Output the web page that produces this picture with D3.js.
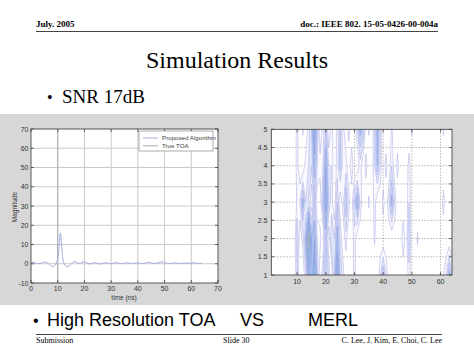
<!DOCTYPE html>
<html><head><meta charset="utf-8">
<script src="https://cdn.jsdelivr.net/npm/d3@7"></script>
<style>body{margin:0;background:#fff}svg{display:block}</style>
</head><body><svg id="c" width="474" height="355"></svg>
<script>
// ---------- data ----------
const timeNs = [0,1,2,3,4,5,6,7,8,9,10,10.5,11,11.5,12,13,14,15,16,17,18,19,20,21,22,23,24,25,26,27,28,29,30,31,32,33,34,35,36,37,38,39,40,41,42,43,44,45,46,47,48,49,50,51,52,53,54,55,56,57,58,59,60,61,62,63,64];
const magnitude = [0.3,0.8,0.2,0.1,0.4,1.0,0.6,-0.6,-1.6,-0.8,2.5,9,16,9,2,-1.2,-1.4,-0.3,1.1,0.8,0.1,0.6,1.1,0.4,-0.1,0.3,0.6,0.2,-0.1,0.2,0.5,0.3,0.1,0.4,0.6,0.2,0.0,0.3,0.5,0.3,0.1,0.3,0.4,0.2,0.1,0.4,0.8,0.5,0.1,0.3,0.7,1.0,0.6,0.2,0.1,0.3,0.4,0.2,0.1,0.3,0.4,0.2,0.3,0.5,0.3,0.1,0.2];
const trueToa = 10;
const leftXTicks = [0,10,20,30,40,50,60,70];
const leftYTicks = [-10,0,10,20,30,40,50,60,70];
const legendLabels = ["Proposed Algorithm","True TOA"];

const rightXTicks = [10,20,30,40,50,60];
const rightYTicks = [1,1.5,2,2.5,3,3.5,4,4.5,5];
// spectrum rows (y = 1..5), columns x = 1..64
const row1 = [0,0,0,0,0,0,0,0,0,.2, 0,0,.2,.5,.35,.7,.3,0,.2,.4, .2,0,.3,.6,.3,.15,0,0,0,.15, 0,0,0,0,0,0,0,0,.2,.4, .2,0,0,0,0,0,0,0,.15,0, 0,0,0,0,0,0,0,0,0,0, .1,.2,.45,.2];
const row2 = [0,0,0,0,0,0,0,0,0,.3, 0,.15,.4,.95,.4,.5,.2,.15,0,.35, 0,.3,.2,.45,.2,0,.15,0,0,.15, 0,0,0,0,0,0,.12,0,0,0, 0,0,0,0,0,0,.2,0,.3,0, 0,.12,0,0,0,0,0,0,0,0, 0,0,0,0];
const row3 = [0,0,0,0,0,0,0,0,0,.12, .2,.45,.2,.2,0,.3,0,0,.3,.55, .3,.15,0,.3,0,.15,.4,.15,0,.3, .5,.2,0,0,.12,0,.15,0,0,.15, 0,.2,.45,.2,0,0,0,0,.2,0, 0,0,0,0,0,0,0,0,0,0, .15,0,0,0];
const row4 = [0,0,0,0,0,0,0,0,0,.15, 0,0,.15,.2,.2,.45,.2,.15,.2,.5, .2,.2,0,.15,.35,.15,.15,0,.2,0, 0,.15,0,.15,0,0,.2,.4,.2,0, .15,0,.2,0,.15,0,0,0,.15,0, 0,0,0,0,0,0,0,0,0,0, 0,0,.1,0];
const row5 = [0,0,0,0,0,0,0,0,0,.15, 0,.12,0,.15,.3,.6,.3,0,.15,.3, 0,.15,0,.15,.3,.15,0,.15,0,0, .2,.45,.35,0,.12,0,.2,.45,.2,0, 0,0,.12,0,0,0,0,0,0,.12, 0,0,0,0,0,0,0,0,0,0, .12,0,0,0];
const contourLevels = [0.1,0.2,0.3,0.4,0.5,0.6,0.7,0.8,0.9];
const contourFills = ["#f7f7fd","#dde3f9","#c4d3f5","#abc3f1","#95b5ee","#8ee0f0","#b8e68e","#e8d45c","#e48a44"];

// ---------- drawing ----------
const svg = d3.select("#c");
const serif = "'Liberation Serif','Times New Roman',serif";
const sans = "'Liberation Sans',Arial,sans-serif";

// header
svg.append("text").attr("x",36).attr("y",27).attr("font-family",serif).attr("font-weight","bold").attr("font-size",9).text("July. 2005");
svg.append("text").attr("x",438).attr("y",27).attr("text-anchor","end").attr("font-family",serif).attr("font-weight","bold").attr("font-size",9).text("doc.: IEEE 802. 15-05-0426-00-004a");
svg.append("line").attr("x1",36).attr("x2",438).attr("y1",31.5).attr("y2",31.5).attr("stroke","#444").attr("stroke-width",1);
svg.append("text").attr("x",237).attr("y",68).attr("text-anchor","middle").attr("font-family",serif).attr("font-size",24).text("Simulation Results");
svg.append("text").attr("x",47).attr("y",103).attr("font-family",serif).attr("font-size",16).text("•");
svg.append("text").attr("x",62).attr("y",103).attr("font-family",serif).attr("font-size",19).text("SNR 17dB");

// gray figure band
svg.append("rect").attr("x",0).attr("y",114).attr("width",474).attr("height",191).attr("fill","#d7d7d7");

// ---------- left plot ----------
const lx = d3.scaleLinear().domain([0,70]).range([31,218]);
const ly = d3.scaleLinear().domain([-10,70]).range([283,129]);
const L = svg.append("g");
L.append("rect").attr("x",lx(0)).attr("y",ly(70)).attr("width",lx(70)-lx(0)).attr("height",ly(-10)-ly(70)).attr("fill","#fff");
L.selectAll(".gx").data(leftXTicks.slice(1,-1)).join("line").attr("x1",d=>lx(d)).attr("x2",d=>lx(d)).attr("y1",ly(-10)).attr("y2",ly(70)).attr("stroke","#c9c9c9").attr("stroke-width",1);
L.selectAll(".gy").data(leftYTicks.slice(1,-1)).join("line").attr("y1",d=>ly(d)).attr("y2",d=>ly(d)).attr("x1",lx(0)).attr("x2",lx(70)).attr("stroke","#c9c9c9").attr("stroke-width",1);
L.append("line").attr("x1",lx(trueToa)).attr("x2",lx(trueToa)).attr("y1",ly(-10)).attr("y2",ly(70)).attr("stroke","#a9abab").attr("stroke-width",1);
const lineGen = d3.line().x((d,i)=>lx(timeNs[i])).y(d=>ly(d)).curve(d3.curveCatmullRom);
L.append("path").attr("d",lineGen(magnitude)).attr("fill","none").attr("stroke","#a6aee6").attr("stroke-width",1);
L.append("rect").attr("x",lx(0)).attr("y",ly(70)).attr("width",lx(70)-lx(0)).attr("height",ly(-10)-ly(70)).attr("fill","none").attr("stroke","#333").attr("stroke-width",0.8);
leftXTicks.forEach(t=>{
  L.append("line").attr("x1",lx(t)).attr("x2",lx(t)).attr("y1",ly(-10)).attr("y2",ly(-10)-3).attr("stroke","#333").attr("stroke-width",0.7);
  L.append("line").attr("x1",lx(t)).attr("x2",lx(t)).attr("y1",ly(70)).attr("y2",ly(70)+3).attr("stroke","#333").attr("stroke-width",0.7);
  L.append("text").attr("x",lx(t)).attr("y",291).attr("text-anchor","middle").attr("font-family",sans).attr("font-size",7).attr("fill","#333").text(t);
});
leftYTicks.forEach(t=>{
  L.append("line").attr("y1",ly(t)).attr("y2",ly(t)).attr("x1",lx(0)).attr("x2",lx(0)+3).attr("stroke","#333").attr("stroke-width",0.7);
  L.append("line").attr("y1",ly(t)).attr("y2",ly(t)).attr("x1",lx(70)).attr("x2",lx(70)-3).attr("stroke","#333").attr("stroke-width",0.7);
  L.append("text").attr("x",28.5).attr("y",ly(t)+2.5).attr("text-anchor","end").attr("font-family",sans).attr("font-size",7).attr("fill","#333").text(t);
});
L.append("text").attr("x",124).attr("y",300).attr("text-anchor","middle").attr("font-family",sans).attr("font-size",6.5).attr("fill","#333").text("time (ns)");
L.append("text").attr("transform","translate(17,207) rotate(-90)").attr("text-anchor","middle").attr("font-family",sans).attr("font-size",6.5).attr("fill","#333").text("Magnitude");
const lg = L.append("g");
lg.append("rect").attr("x",139).attr("y",131).attr("width",74).attr("height",20).attr("fill","#fff").attr("stroke","#888").attr("stroke-width",0.7);
const legendColors = ["#a6aee6","#a9abab"];
legendLabels.forEach((s,i)=>{
  const yy = 138 + i*7.8;
  lg.append("line").attr("x1",143).attr("x2",158).attr("y1",yy).attr("y2",yy).attr("stroke",legendColors[i]).attr("stroke-width",1);
  lg.append("text").attr("x",162).attr("y",yy+2.3).attr("font-family",sans).attr("font-size",6.2).attr("fill","#444").text(s);
});

// ---------- right plot ----------
const rx = d3.scaleLinear().domain([1,64]).range([271.3,452]);
const ry = d3.scaleLinear().domain([1,5]).range([275,129.3]);
const R = svg.append("g");
R.append("rect").attr("x",rx(1)).attr("y",ry(5)).attr("width",rx(64)-rx(1)).attr("height",ry(1)-ry(5)).attr("fill","#fff");
svg.append("clipPath").attr("id","rclip").append("rect").attr("x",rx(1)).attr("y",ry(5)).attr("width",rx(64)-rx(1)).attr("height",ry(1)-ry(5));
R.selectAll(".rgx").data(rightXTicks).join("line").attr("x1",d=>rx(d)).attr("x2",d=>rx(d)).attr("y1",ry(1)).attr("y2",ry(5)).attr("stroke","#a8a8a8").attr("stroke-width",0.8).attr("stroke-dasharray","1.5,1.5");
R.selectAll(".rgy").data(rightYTicks.slice(1,-1)).join("line").attr("y1",d=>ry(d)).attr("y2",d=>ry(d)).attr("x1",rx(1)).attr("x2",rx(64)).attr("stroke","#a0a0a0").attr("stroke-width",0.8).attr("stroke-dasharray","1.5,1.5");
const grid = [].concat(row1,row2,row3,row4,row5);
const contours = d3.contours().size([64,5]).thresholds(contourLevels)(grid);
const proj = d3.geoTransform({point(x,y){ this.stream.point(rx(1 + (x-0.5)), ry(1 + (y-0.5))); }});
const gp = d3.geoPath(proj);
R.append("g").attr("clip-path","url(#rclip)").selectAll("path").data(contours).join("path")
  .attr("d",gp)
  .attr("fill",(d,i)=>contourFills[i]).attr("fill-opacity",0.9)
  .attr("stroke",(d,i)=> i<3 ? "#afb0e6" : "#8fa0e0").attr("stroke-width",0.55);
R.append("rect").attr("x",rx(1)).attr("y",ry(5)).attr("width",rx(64)-rx(1)).attr("height",ry(1)-ry(5)).attr("fill","none").attr("stroke","#333").attr("stroke-width",0.8);
rightXTicks.forEach(t=>{
  R.append("line").attr("x1",rx(t)).attr("x2",rx(t)).attr("y1",ry(1)).attr("y2",ry(1)-3).attr("stroke","#333").attr("stroke-width",0.7);
  R.append("line").attr("x1",rx(t)).attr("x2",rx(t)).attr("y1",ry(5)).attr("y2",ry(5)+3).attr("stroke","#333").attr("stroke-width",0.7);
  R.append("text").attr("x",rx(t)).attr("y",284).attr("text-anchor","middle").attr("font-family",sans).attr("font-size",7).attr("fill","#333").text(t);
});
rightYTicks.forEach(t=>{
  R.append("line").attr("y1",ry(t)).attr("y2",ry(t)).attr("x1",rx(1)).attr("x2",rx(1)+3).attr("stroke","#333").attr("stroke-width",0.7);
  R.append("line").attr("y1",ry(t)).attr("y2",ry(t)).attr("x1",rx(64)).attr("x2",rx(64)-3).attr("stroke","#333").attr("stroke-width",0.7);
  R.append("text").attr("x",267.5).attr("y",ry(t)+2.5).attr("text-anchor","end").attr("font-family",sans).attr("font-size",7).attr("fill","#333").text(t);
});

// ---------- bottom ----------
svg.append("text").attr("x",33).attr("y",326).attr("font-family",sans).attr("font-size",16).text("•");
svg.append("text").attr("x",47).attr("y",326).attr("font-family",sans).attr("font-size",18).text("High Resolution TOA");
svg.append("text").attr("x",240).attr("y",326).attr("font-family",sans).attr("font-size",18).text("VS");
svg.append("text").attr("x",308).attr("y",326).attr("font-family",sans).attr("font-size",18).text("MERL");
svg.append("line").attr("x1",36).attr("x2",442).attr("y1",334.5).attr("y2",334.5).attr("stroke","#444").attr("stroke-width",1);
svg.append("text").attr("x",36).attr("y",343).attr("font-family",serif).attr("font-size",8).text("Submission");
svg.append("text").attr("x",223).attr("y",343).attr("font-family",serif).attr("font-size",8).text("Slide 30");
svg.append("text").attr("x",442).attr("y",343).attr("text-anchor","end").attr("font-family",serif).attr("font-size",8).text("C. Lee, J. Kim, E. Choi, C. Lee");
</script></body></html>
